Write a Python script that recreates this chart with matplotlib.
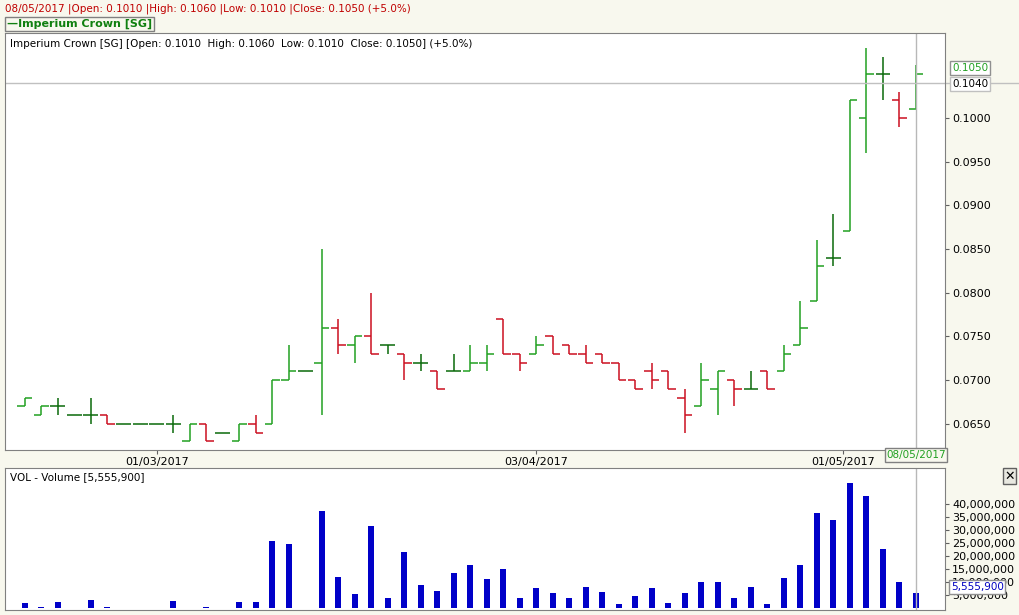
import matplotlib
matplotlib.use("Agg")
import matplotlib.pyplot as plt
from matplotlib.ticker import FixedLocator, FuncFormatter

opens = [.067,.066,.067,.066,.066,.066,.065,.065,.065,.065,.063,.065,.064,.063,.065,.065,.070,.071,.072,.076,
         .074,.075,.074,.073,.072,.071,.071,.071,.072,.077,.073,.073,.075,.074,.073,.073,.072,.070,.071,.071,
         .068,.067,.069,.070,.069,.071,.071,.074,.079,.084,.087,.100,.105,.102,.101]
highs = [.068,.067,.068,.066,.068,.066,.065,.065,.065,.066,.065,.065,.064,.065,.066,.070,.074,.071,.085,.077,
         .075,.080,.074,.073,.073,.071,.073,.074,.074,.077,.073,.075,.075,.074,.074,.073,.072,.070,.072,.071,
         .069,.072,.071,.070,.071,.071,.074,.079,.086,.089,.102,.108,.107,.103,.106]
lows = [.067,.066,.066,.066,.065,.065,.065,.065,.065,.064,.063,.063,.064,.063,.064,.065,.070,.071,.066,.073,
        .072,.073,.073,.070,.071,.069,.071,.071,.071,.073,.071,.073,.073,.073,.072,.072,.070,.069,.069,.069,
        .064,.067,.066,.067,.069,.069,.071,.074,.079,.083,.087,.096,.102,.099,.101]
closes = [.068,.067,.067,.066,.066,.065,.065,.065,.065,.065,.065,.063,.064,.065,.064,.070,.071,.071,.076,.074,
          .075,.073,.074,.072,.072,.069,.071,.072,.073,.073,.072,.074,.073,.073,.072,.072,.070,.069,.070,.069,
          .066,.070,.071,.069,.069,.069,.073,.076,.083,.084,.102,.105,.105,.100,.105]
volumes = [1.9,0.4,2.3,0,3.0,0.4,0,0,0,2.7,0,0.4,0,2.3,2.3,25.8,24.6,0,37.4,12.0,
           5.3,31.6,3.9,21.6,8.7,6.4,13.5,16.5,11.2,14.9,3.9,7.7,5.8,3.9,8.1,6.2,1.5,4.6,7.7,1.9,
           5.8,10.0,10.0,3.9,8.1,1.5,11.6,16.5,36.7,33.8,48.2,43.2,22.6,9.9,5.5559]
date_ticks = [9, 32, 50.6]
date_labels = ["01/03/2017", "03/04/2017", "01/05/2017"]
price_ticks = [0.065, 0.070, 0.075, 0.080, 0.085, 0.090, 0.095, 0.100]
vol_ticks = [5, 10, 15, 20, 25, 30, 35, 40]

GREEN = "#22a022"; DKGREEN = "#0a6a0a"; RED = "#cc1020"; BG = "#f8f8ee"
W, H = 1020, 615
fig = plt.figure(figsize=(W/100, H/100), dpi=100, facecolor=BG)
def rect(x0, y0, x1, y1):
    return [x0/W, 1-y1/H, (x1-x0)/W, (y1-y0)/H]

ax = fig.add_axes(rect(5, 33, 945, 450))
axv = fig.add_axes(rect(5, 468, 945, 610))
n = len(opens)
xs = list(range(1, n+1))
tk = 0.45
for i in range(n):
    x = xs[i]; o, h, l, c = opens[i], highs[i], lows[i], closes[i]
    col = GREEN if c > o else (RED if c < o else DKGREEN)
    ax.vlines(x, l, h, color=col, lw=1.1)
    ax.hlines(o, x-tk, x, color=col, lw=1.1)
    ax.hlines(c, x, x+tk, color=col, lw=1.1)
axv.bar(xs, volumes, width=0.36, color="#0000c8")

for a in (ax, axv):
    a.set_xlim(-0.2, 56.76)
    a.set_facecolor("white")
    for s in a.spines.values():
        s.set_color("#808080")
    a.axvline(55, color="#b8b8b8", lw=1)
ax.set_ylim(0.0620, 0.1097)
axv.set_ylim(-0.9, 53.9)
ax.axhline(0.104, color="#c0c0c0", lw=1)
ax.hlines(0.104, 56.76, 62, color="#c0c0c0", lw=1, clip_on=False)

ax.yaxis.tick_right(); axv.yaxis.tick_right()
ax.yaxis.set_major_locator(FixedLocator(price_ticks))
ax.yaxis.set_major_formatter(FuncFormatter(lambda v, p: f"{v:.4f}"))
axv.yaxis.set_major_locator(FixedLocator(vol_ticks))
axv.yaxis.set_major_formatter(FuncFormatter(lambda v, p: f"{int(v*1e6):,}"))
for a in (ax, axv):
    a.tick_params(axis="y", labelsize=8, length=3, color="#606060", pad=2)
ax.set_xticks(date_ticks)
ax.set_xticklabels(date_labels)
ax.tick_params(axis="x", labelsize=8, length=3, color="#606060", pad=2)
axv.set_xticks([])

ax.text(0.005, 0.985, "Imperium Crown [SG] [Open: 0.1010  High: 0.1060  Low: 0.1010  Close: 0.1050] (+5.0%)",
        transform=ax.transAxes, fontsize=7.5, va="top", ha="left")
axv.text(0.005, 0.97, "VOL - Volume [5,555,900]", transform=axv.transAxes, fontsize=7.5, va="top", ha="left")
fig.text(5/W, 1-9/H, "08/05/2017 |Open: 0.1010 |High: 0.1060 |Low: 0.1010 |Close: 0.1050 (+5.0%)",
         color="#c00000", fontsize=7.5, va="center")
fig.text(7/W, 1-24/H, "\u2014Imperium Crown [SG]", color="#108010", fontsize=8, fontweight="bold", va="center",
         bbox=dict(boxstyle="square,pad=0.15", fc=BG, ec="#808080"))
fig.text(952/W, 1-68/H, "0.1050", color=GREEN, fontsize=7.5, va="center",
         bbox=dict(boxstyle="square,pad=0.15", fc="white", ec="#909090"))
fig.text(952/W, 1-84/H, "0.1040", color="black", fontsize=7.5, va="center",
         bbox=dict(boxstyle="square,pad=0.15", fc="white", ec="#c0c0c0"))
ax.text(55, 0.0620, "08/05/2017", color=GREEN, fontsize=7.5, va="top", ha="center",
        transform=ax.transData, bbox=dict(boxstyle="square,pad=0.15", fc=BG, ec="#808080"))
fig.text(951/W, 1-587/H, "5,555,900", color="#0000c0", fontsize=7.5, va="center",
         bbox=dict(boxstyle="square,pad=0.15", fc="white", ec="#909090"))
fig.text(1010/W, 1-476/H, "\u2715", fontsize=9, ha="center", va="center",
         bbox=dict(boxstyle="square,pad=0.1", fc="#e8e8e0", ec="#606060"))
fig.savefig("out.png", dpi=100, facecolor=BG)
